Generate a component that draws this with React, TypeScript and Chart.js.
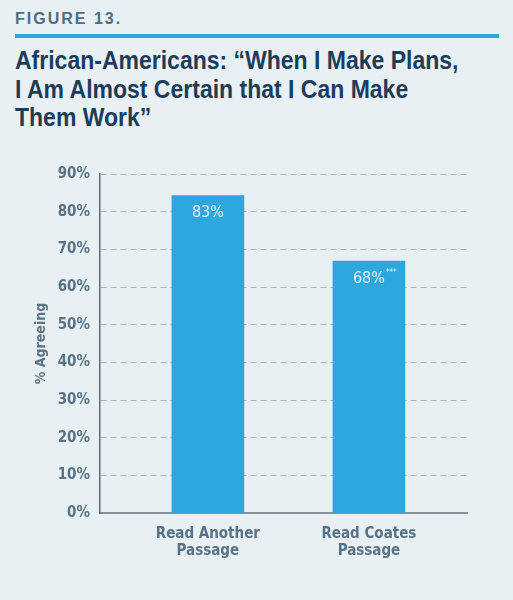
import { useEffect, useRef } from "react"
import { Chart, registerables } from "chart.js"

Chart.register(...registerables)

const categories = [["Read Another", "Passage"], ["Read Coates", "Passage"]]
const agreeing = [84.3, 66.9]
const valueLabels = ["83%", "68%"]
const valueMarks = ["", "***"]
const yTicks = [0, 10, 20, 30, 40, 50, 60, 70, 80, 90]

const FONT = "'DejaVu Sans Condensed', 'DejaVu Sans', sans-serif"
const BG = "#e9f0f4"
const LABEL = "#587286"

const barLabels = {
  id: "barLabels",
  afterDatasetsDraw(chart: Chart) {
    const ctx = chart.ctx
    const meta = chart.getDatasetMeta(0)
    ctx.save()
    ctx.fillStyle = "#e2f5fd"
    ctx.textBaseline = "alphabetic"
    meta.data.forEach((bar: any, i: number) => {
      ctx.font = `16px ${FONT}`
      const w = ctx.measureText(valueLabels[i]).width
      ctx.textAlign = "center"
      ctx.fillText(valueLabels[i], bar.x, bar.y + 22)
      if (valueMarks[i]) {
        ctx.font = `8px ${FONT}`
        ctx.textAlign = "left"
        ctx.fillText(valueMarks[i], bar.x + w / 2 + 1, bar.y + 14)
      }
    })
    ctx.restore()
  },
}

export default function App() {
  const chartRef = useRef<HTMLCanvasElement>(null)
  const chartInstance = useRef<Chart | null>(null)

  useEffect(() => {
    document.body.style.margin = "0"
    document.body.style.background = BG
    if (!chartRef.current) return
    if (chartInstance.current) chartInstance.current.destroy()

    chartInstance.current = new Chart(chartRef.current, {
      type: "bar",
      data: {
        datasets: [
          {
            data: agreeing.map((v, i) => ({ x: i + 1, y: v })),
            backgroundColor: "#2ea6de",
            barThickness: 72,
          },
        ],
      },
      options: {
        animation: false,
        responsive: false,
        layout: { padding: { top: 174, right: 46, bottom: 0, left: 0 } },
        plugins: { legend: { display: false }, tooltip: { enabled: false } },
        scales: {
          x: {
            type: "linear",
            offset: false,
            min: 0.33,
            max: 2.609,
            afterFit: (s: any) => {
              s.height = 87
            },
            afterBuildTicks: (s: any) => {
              s.ticks = [{ value: 1 }, { value: 2 }]
            },
            grid: { display: false, drawTicks: false },
            border: { display: true, color: "#858f97", width: 2 },
            ticks: {
              padding: 12,
              color: LABEL,
              autoSkip: false,
              maxRotation: 0,
              font: { family: FONT, size: 15, weight: "bold", lineHeight: 1.17 },
              callback: (v: any) => categories[Number(v) - 1] ?? "",
            },
          },
          y: {
            min: 0,
            max: 90,
            afterFit: (s: any) => {
              s.width = 100
            },
            afterBuildTicks: (s: any) => {
              s.ticks = yTicks.map((value) => ({ value }))
            },
            grid: {
              color: "#aeb5ba",
              lineWidth: 1,
              drawTicks: false,
            },
            border: { display: true, color: "#5f6b75", width: 1.5, dash: [6, 4] },
            ticks: {
              padding: 10,
              color: LABEL,
              font: { family: FONT, size: 15, weight: "bold" },
              callback: (v: any) => `${v}%`,
            },
            title: {
              display: true,
              text: "% Agreeing",
              color: LABEL,
              font: { family: FONT, size: 14, weight: "bold" },
              padding: { top: 33, bottom: 0 },
            },
          },
        },
      },
      plugins: [barLabels],
    })

    return () => {
      if (chartInstance.current) {
        chartInstance.current.destroy()
        chartInstance.current = null
      }
    }
  }, [])

  return (
    <div style={{ position: "relative", width: 513, height: 600, background: BG, overflow: "hidden" }}>
      <div
        style={{
          position: "absolute",
          left: 15,
          top: 10,
          fontFamily: "'Liberation Sans', Arial, sans-serif",
          fontWeight: "bold",
          fontSize: 16,
          letterSpacing: 2,
          color: "#4f6d80",
        }}
      >
        FIGURE 13.
      </div>
      <div style={{ position: "absolute", left: 15, top: 34, width: 484, height: 4, background: "#2ea6de" }} />
      <div
        style={{
          position: "absolute",
          left: 15,
          top: 46,
          fontFamily: "'Liberation Sans', Arial, sans-serif",
          fontWeight: "bold",
          fontSize: 25,
          lineHeight: "28.5px",
          whiteSpace: "nowrap",
          color: "#1b3d5a",
          transform: "scaleX(0.92)",
          transformOrigin: "left top",
        }}
      >
        African-Americans: “When I Make Plans,
        <br />I Am Almost Certain that I Can Make
        <br />
        Them Work”
      </div>
      <canvas ref={chartRef} width={513} height={600} style={{ position: "absolute", left: 0, top: 0 }} />
    </div>
  )
}
